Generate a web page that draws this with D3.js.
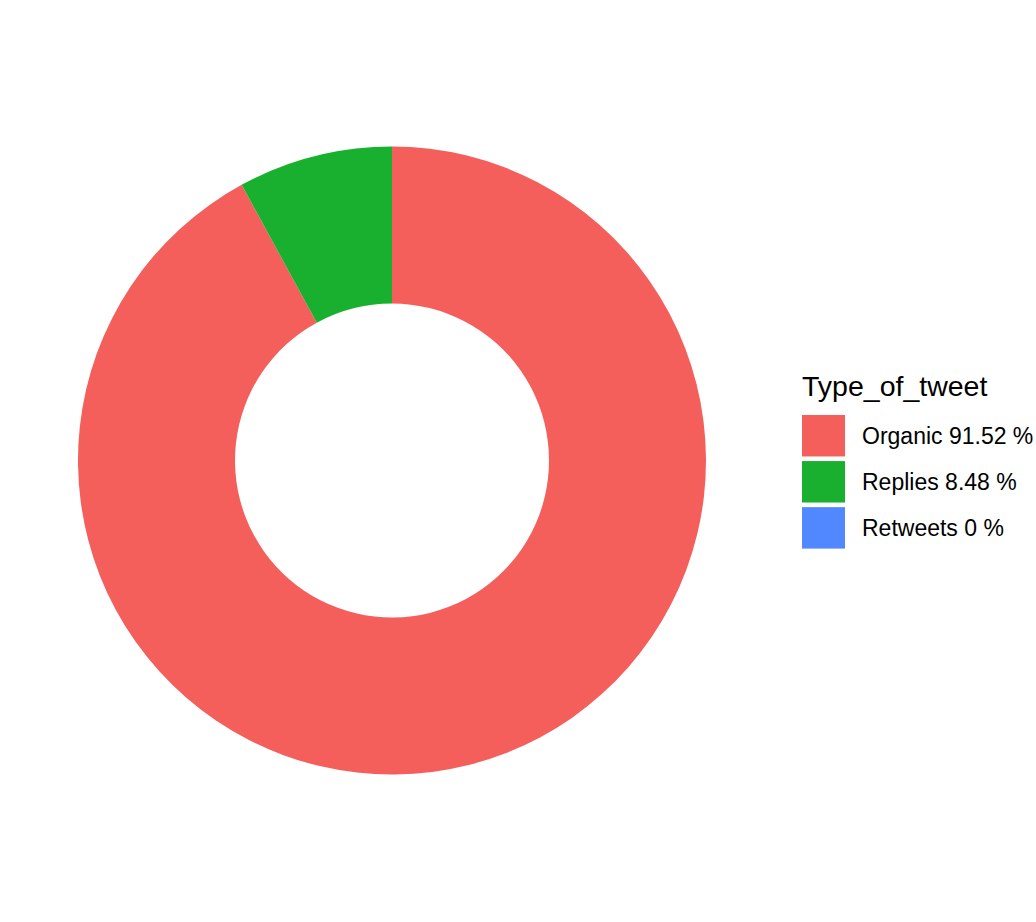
<!DOCTYPE html>
<html>
<head>
<meta charset="utf-8">
<script src="https://cdn.jsdelivr.net/npm/d3@7"></script>
<style>
  body { margin: 0; background: #fff; }
  text { font-family: "Liberation Sans", Arial, sans-serif; fill: #000; }
</style>
</head>
<body>
<div id="chart"></div>
<script>
// data
const categories = ["Organic", "Replies", "Retweets"];
// percentages printed in the legend
const labelPercents = [91.52, 8.48, 0];
// slice shares as drawn in the picture
const sliceShares = [92.05, 7.95, 0];
const colors = ["#F45F5C", "#19B02F", "#5188FF"];
const legendTitle = "Type_of_tweet";

const width = 1036, height = 922;
const cx = 392, cy = 460.5;
const outerR = 314, innerR = 157;

const svg = d3.select("#chart")
  .append("svg")
  .attr("width", width)
  .attr("height", height);

const color = d3.scaleOrdinal().domain(categories).range(colors);

const data = categories.map((c, i) => ({cat: c, share: sliceShares[i], label: labelPercents[i]}));

const pie = d3.pie()
  .sort(null)
  .value(d => d.share);

const arc = d3.arc()
  .innerRadius(innerR)
  .outerRadius(outerR);

// donut
svg.append("g")
  .attr("transform", "translate(" + cx + "," + cy + ")")
  .selectAll("path")
  .data(pie(data))
  .join("path")
  .attr("d", arc)
  .attr("fill", d => color(d.data.cat));

// legend
const legend = svg.append("g")
  .attr("transform", "translate(802,0)");

legend.append("text")
  .attr("x", 0)
  .attr("y", 396)
  .attr("font-size", 28.5)
  .text(legendTitle);

const keyY = d3.scaleBand()
  .domain(categories)
  .range([415, 548.6])
  .paddingInner(0.1);

const keys = legend.selectAll("g.key")
  .data(data)
  .join("g")
  .attr("class", "key");

keys.append("rect")
  .attr("x", 0)
  .attr("y", d => keyY(d.cat))
  .attr("width", 43)
  .attr("height", keyY.bandwidth())
  .attr("fill", d => color(d.cat));

keys.append("text")
  .attr("x", 60)
  .attr("y", d => keyY(d.cat) + keyY.bandwidth() / 2)
  .attr("dy", "0.35em")
  .attr("font-size", 23)
  .text(d => d.cat + " " + d.label + " %");
</script>
</body>
</html>
